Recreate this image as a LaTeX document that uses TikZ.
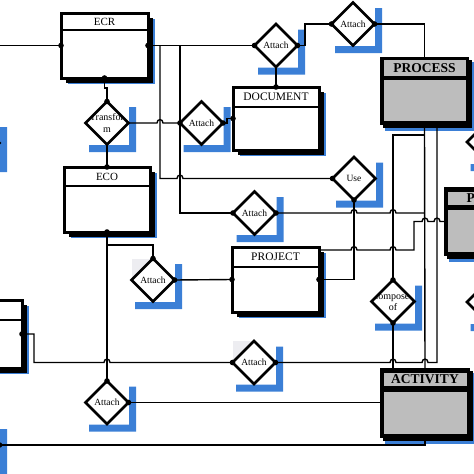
\documentclass[tikz,border=0pt]{standalone}
\usepackage{fontspec}
\setmainfont{Liberation Serif}
\usetikzlibrary{shapes.geometric}
\definecolor{shblue}{HTML}{3B7FD6}
\definecolor{boxgrey}{HTML}{BDBDBD}
\definecolor{faintgrey}{HTML}{EDEDF1}
\newcommand\hopR[2]{-- ({#1-3},{#2}) .. controls ({#1-3},{#2-4.5}) and ({#1+3},{#2-4.5}) .. ({#1+3},{#2})}
\newcommand\hopL[2]{-- ({#1+3},{#2}) .. controls ({#1+3},{#2-4.5}) and ({#1-3},{#2-4.5}) .. ({#1-3},{#2})}
\newcommand\mkLsh[2]{\fill[shblue] ({#1+22},{#2-16}) -- ({#1+29},{#2-16}) -- ({#1+29},{#2+29}) -- ({#1-18},{#2+29}) -- ({#1-18},{#2+22}) -- ({#1+22},{#2+22}) -- cycle;}
\newcommand\mkEntity[8]{%
  \fill[shblue] ({#2+7},{#3+6}) rectangle ({#4+7},{#5+6});
  \fill[black] ({#2+5},{#3+5}) rectangle ({#4+5},{#5+5});
  \node[entity, minimum width={(#4)-(#2)}, minimum height={(#5)-(#3)}] (#1) at ({((#2)+(#4))/2},{((#3)+(#5))/2}) {};
  \draw[hdrline] ({#2},{#6}) -- ({#4},{#6});
  \node[#8] (#1-lbl) at ({((#2)+(#4))/2},{((#3)+(#6))/2}) {#7};
}
\newcommand\mkDark[8]{%
  \fill[shblue] ({#2+5},{#3+5}) rectangle ({#4+5},{#5+5.5});
  \fill[black] ({#2+3},{#3+3}) rectangle ({#4+3},{#5+3});
  \node[darkbox, minimum width={(#4)-(#2)}, minimum height={(#5)-(#3)}] (#1) at ({((#2)+(#4))/2},{((#3)+(#5))/2}) {};
  \fill[boxgrey] ({#2+4},{#6}) rectangle ({#4-3.5},{#7});
  \fill[boxgrey] ({#2+4},{#8}) rectangle ({#4-3.5},{#5-4});
}
\tikzset{
  entity/.style={rectangle, draw=black, fill=white, line width=3pt, inner sep=0pt, outer sep=0pt},
  hdrline/.style={line width=2.4pt},
  darkbox/.style={rectangle, fill=black, inner sep=0pt, outer sep=0pt},
  entlbl/.style={font=\fontsize{11}{13}\selectfont, inner sep=0pt},
  entlblL/.style={font=\fontsize{11.5}{13}\selectfont, inner sep=0pt},
  darklbl/.style={font=\fontsize{13.5}{15}\selectfont\bfseries, inner sep=0pt},
  dia/.style={diamond, draw=black, fill=white, line width=2.6pt, inner sep=0pt, outer sep=0pt,
    minimum width=43pt, minimum height=43pt, font=\fontsize{9.5}{11}\selectfont},
  dtext/.style={font=\fontsize{10}{11.5}\selectfont, align=center, inner sep=0pt},
  conn/.style={line width=1.4pt, line join=miter},
}
\begin{document}
\begin{tikzpicture}[x=1pt, y=-1pt]
\useasboundingbox (0,0) rectangle (474,474);
% diamond shadows
\mkLsh{107}{123}
\mkLsh{201.5}{123}
\mkLsh{276}{45.5}
\mkLsh{353}{24}
\mkLsh{354}{178.5}
\mkLsh{254.5}{213}
\mkLsh{153}{280}
\mkLsh{393}{301.5}
\mkLsh{254}{362.5}
\mkLsh{107}{402.5}
\mkLsh{-22}{143}
\mkLsh{-22}{445}
\mkLsh{488.5}{142}
\mkLsh{488.5}{302}
\fill[faintgrey] (131.5,258.5) rectangle (153,280);
\fill[faintgrey] (232.5,341) rectangle (254,362.5);
% entities
\mkEntity{ecr}{61}{13}{148}{78}{30}{ECR}{entlbl}
\mkEntity{doc}{233}{87}{319}{150}{107}{DOCUMENT}{entlblL}
\mkEntity{eco}{64}{167}{150}{232}{186}{ECO}{entlbl}
\mkEntity{proj}{232}{247}{319}{312}{267}{PROJECT}{entlblL}
\mkEntity{lbox}{-20}{300}{22}{368}{320}{}{entlbl}
\mkDark{proc}{380}{57}{469}{125}{60}{76}{80}
\mkDark{act}{380}{368}{470}{438}{373}{386}{392}
\mkDark{pbox}{444}{187}{540}{256}{192}{205}{210}
\node[darklbl] (proc-lbl) at (424.5,68) {PROCESS};
\node[darklbl] (act-lbl) at (425,379.5) {ACTIVITY};
\node[darklbl, anchor=west] (pbox-lbl) at (466.5,198.5) {P};
% relationships
\node[dia] (tr) at (107,123) {};
\node[dia] (at1) at (201.5,123) {Attach};
\node[dia] (at2) at (276,45.5) {Attach};
\node[dia] (at3) at (353,24) {Attach};
\node[dia] (use) at (354,178.5) {Use};
\node[dia] (at4) at (254.5,213) {Attach};
\node[dia] (ecoat) at (153,280) {Attach};
\node[dia] (comp) at (393,301.5) {};
\node[dia] (at5) at (254,362.5) {Attach};
\node[dia] (at6) at (107,402.5) {Attach};
\node[dia] (dl1) at (-22,143) {};
\node[dia] (dbl) at (-22,445) {};
\node[dia] (dr1) at (488.5,142) {};
\node[dia] (dr2) at (488.5,302) {};
\begin{scope}
\clip (tr.north) -- (tr.east) -- (tr.south) -- (tr.west) -- cycle;
\node[dtext] (tr-txt) at (107,123) {Transfor\\m};
\end{scope}
\begin{scope}
\clip (comp.north) -- (comp.east) -- (comp.south) -- (comp.west) -- cycle;
\node[dtext] (comp-txt) at (393,301.5) {Composed\\of};
\end{scope}
% junction coordinates
\coordinate (lin) at (-5,45.5);
\coordinate (j160) at (160,45.5);
\coordinate (j180) at (180,45.5);
\coordinate (j135) at ([yshift=-10pt]proc.south);
\coordinate (j437) at ([xshift=12.5pt]proc.south);
\coordinate (j213) at (proc.south |- at4.east);
\coordinate (j245) at ([yshift=-13pt]eco.south);
\coordinate (projR) at ([yshift=29.5pt]proj.east);
% connectors
\begin{scope}[conn]
\draw (lin) -- (ecr.west);
\draw (ecr.east) -- (at2.west);
\draw (j160) -- (160,178.5) \hopR{180}{178.5} -- (use.west);
\draw (j180) -- (180,213) -- (at4.west);
\draw (ecr.south) -- ++(0,10) -| (tr.north);
\draw (tr.east) \hopR{160}{123} -- (at1.west);
\draw (at1.east) -- ++(4,0) |- (doc.west);
\draw (doc.north) -- (at2.south);
\draw (at2.east) -- ++(7.5,0) |- (at3.west);
\draw (at3.east) -| (proc.north);
\draw (proc.south) -- (act.north);
\draw (j135) -| (comp.north);
\draw (comp.south) -- (comp.south |- act.north);
\draw (j437) -- (437,362.5) \hopL{425}{362.5} \hopL{393}{362.5} -- (at5.east);
\draw (at4.east) \hopR{354}{213} \hopR{393}{213} -- (j213);
\draw (projR) \hopR{354}{250} \hopR{393}{250} -- (414,250) -- (414,221.5) \hopR{425}{221.5} \hopR{437}{221.5} -- (pbox.west);
\draw (use.south) |- (proj.east);
\draw (tr.south) -- (eco.north);
\draw (eco.south) -- (at6.north);
\draw (j245) -| (ecoat.north);
\draw (ecoat.east) -- (proj.west);
\draw (lbox.east) -- ++(12,0) -- (34,362.5) \hopR{107}{362.5} -- (at5.west);
\draw (at6.east) -- (at6.east -| act.west);
\draw (dbl.east) -- (dbl.east -| act.south) -- (act.south);
\end{scope}
\foreach \p in {ecr.west, ecr.east, ecr.south, tr.north, at1.west, at1.east, doc.west, doc.north,
  at2.west, at2.east, at3.west, at3.east, eco.north, eco.south, ecoat.north, ecoat.east,
  proj.west, proj.east, use.west, use.south, at4.west, at4.east, comp.north, comp.south,
  lbox.east, at5.west, at5.east, at6.north, at6.east, dbl.east}
  \fill (\p) circle[radius=2.8pt];
\end{tikzpicture}
\end{document}
